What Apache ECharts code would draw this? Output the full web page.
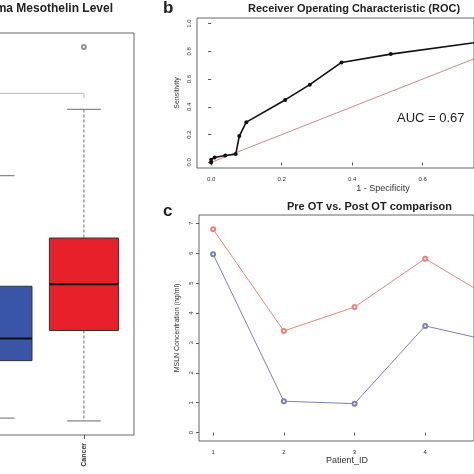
<!DOCTYPE html>
<html>
<head>
<meta charset="utf-8">
<script src="https://cdn.jsdelivr.net/npm/echarts@6/dist/echarts.min.js"></script>
<style>html,body{margin:0;padding:0;background:#fff}#c{width:474px;height:474px}</style>
</head>
<body>
<div id="c"></div>
<script>
// panel a: box stats [pos, low, q1, median, q3, high]
const boxGroups = ['Control', 'Cancer']
const boxStats = [
  [1, 0.42, 1.85, 2.4, 3.7, 6.45],
  [2, 0.35, 2.6, 3.75, 4.9, 8.1]
]
const boxColors = ['#3b55a6', '#e8202a']
const boxOutliers = [[2, 9.65]]

// panel b: ROC curve
const rocFpr = [0, 0, 0.01, 0.04, 0.07, 0.08, 0.10, 0.21, 0.28, 0.37, 0.51, 0.80, 1.0]
const rocTpr = [0, 0.02, 0.035, 0.05, 0.06, 0.19, 0.29, 0.45, 0.56, 0.72, 0.78, 0.88, 1.0]
const rocTicks = [0, 0.2, 0.4, 0.6, 0.8, 1.0]

// panel c: pre / post values
const patients = [1, 2, 3, 4, 5, 6]
const preOT = [6.8, 3.4, 4.2, 5.82, 4.4, 5.0]
const postOT = [5.97, 1.05, 0.97, 3.57, 3.03, 2.5]
const concTicks = [0, 1, 2, 3, 4, 5, 6, 7]

const chart = echarts.init(document.getElementById('c'))
const tickFont = {fontSize: 6, color: '#333', fontFamily: 'Liberation Sans'}
const frame = {show: true, borderColor: '#666', borderWidth: 1, backgroundColor: 'transparent'}
const tick = vals => ({show: true, customValues: vals, length: 3, lineStyle: {color: '#555'}})

chart.setOption({
  animation: false,
  grid: [
    {left: 0, width: 134, top: 33, height: 402, show: false},
    Object.assign({left: 197, width: 277, top: 18, height: 150}, frame),
    Object.assign({left: 199, width: 275, top: 215, height: 226}, frame)
  ],
  xAxis: [
    {gridIndex: 0, type: 'value', min: 1.029, max: 2.58, splitLine: {show: false},
      axisLine: {show: false},
      axisTick: {show: true, customValues: [2], length: 4, lineStyle: {color: '#555'}},
      axisLabel: {customValues: [2], rotate: 90, fontSize: 7, fontWeight: 'bold', color: '#333',
        formatter: v => boxGroups[Math.round(v) - 1]}},
    {gridIndex: 1, type: 'value', min: -0.04, max: 0.746, splitLine: {show: false},
      axisLine: {show: false}, axisTick: tick(rocTicks),
      axisLabel: Object.assign({customValues: rocTicks, formatter: v => v.toFixed(1)}, tickFont)},
    {gridIndex: 2, type: 'value', min: 0.8, max: 4.69, splitLine: {show: false},
      axisLine: {show: false}, axisTick: tick(patients),
      axisLabel: Object.assign({customValues: patients}, tickFont)}
  ],
  yAxis: [
    {gridIndex: 0, type: 'value', min: 0, max: 10, show: false},
    {gridIndex: 1, type: 'value', min: -0.04, max: 1.04, splitLine: {show: false},
      axisLine: {show: false}, axisTick: tick(rocTicks),
      axisLabel: Object.assign({customValues: rocTicks, rotate: 90, margin: 5, formatter: v => v.toFixed(1)}, tickFont)},
    {gridIndex: 2, type: 'value', min: -0.28, max: 7.28, splitLine: {show: false},
      axisLine: {show: false}, axisTick: tick(concTicks),
      axisLabel: Object.assign({customValues: concTicks, rotate: 90, margin: 5}, tickFont)}
  ],
  graphic: [
    {type: 'polyline', shape: {points: [[0, 33], [134, 33], [134, 435], [0, 435]]}, style: {stroke: '#666', fill: null, lineWidth: 1}},
    {type: 'text', position: [113, 3], style: {text: 'Plasma Mesothelin Level', fontSize: 12, fontWeight: 'bold', fill: '#222', align: 'right'}},
    {type: 'text', position: [163, 0], style: {text: 'b', fontSize: 17, fontWeight: 'bold', fill: '#222'}},
    {type: 'text', position: [248, 3], style: {text: 'Receiver Operating Characteristic (ROC)', fontSize: 11, fontWeight: 'bold', fill: '#222'}},
    {type: 'text', position: [397, 112], style: {text: 'AUC = 0.67', fontSize: 13, fill: '#222'}},
    {type: 'text', position: [383, 184], style: {text: '1 - Specificity', fontSize: 9, fill: '#333', align: 'center'}},
    {type: 'text', position: [174, 93], rotation: Math.PI / 2, style: {text: 'Sensitivity', fontSize: 7, fill: '#333', align: 'center'}},
    {type: 'text', position: [163, 203], style: {text: 'c', fontSize: 17, fontWeight: 'bold', fill: '#222'}},
    {type: 'text', position: [287, 201], style: {text: 'Pre OT vs. Post OT comparison', fontSize: 11, fontWeight: 'bold', fill: '#222'}},
    {type: 'text', position: [347, 456], style: {text: 'Patient_ID', fontSize: 9, fill: '#333', align: 'center'}},
    {type: 'text', position: [174, 328], rotation: Math.PI / 2, style: {text: 'MSLN Concentration (ng/ml)', fontSize: 7, fill: '#333', align: 'center'}}
  ],
  series: [
    {type: 'custom', xAxisIndex: 0, yAxisIndex: 0, data: boxStats, clip: false, renderItem: (params, api) => {
      const x = api.value(0)
      const [cx, yLow] = api.coord([x, api.value(1)])
      const yQ1 = api.coord([x, api.value(2)])[1]
      const yMed = api.coord([x, api.value(3)])[1]
      const yQ3 = api.coord([x, api.value(4)])[1]
      const yHigh = api.coord([x, api.value(5)])[1]
      const hw = 34.5, cw = 17
      const grey = {stroke: '#888', lineWidth: 1.2}
      return {type: 'group', children: [
        {type: 'line', shape: {x1: cx, y1: yHigh, x2: cx, y2: yQ3}, style: Object.assign({lineDash: [3, 2]}, grey)},
        {type: 'line', shape: {x1: cx, y1: yQ1, x2: cx, y2: yLow}, style: Object.assign({lineDash: [3, 2]}, grey)},
        {type: 'line', shape: {x1: cx - cw, y1: yHigh, x2: cx + cw, y2: yHigh}, style: grey},
        {type: 'line', shape: {x1: cx - cw, y1: yLow, x2: cx + cw, y2: yLow}, style: grey},
        {type: 'rect', shape: {x: cx - hw, y: yQ3, width: 2 * hw, height: yQ1 - yQ3},
          style: {fill: boxColors[params.dataIndex], stroke: '#333', lineWidth: 1}},
        {type: 'line', shape: {x1: cx - hw, y1: yMed, x2: cx + hw, y2: yMed}, style: {stroke: '#111', lineWidth: 2}}
      ]}
    }},
    {type: 'scatter', xAxisIndex: 0, yAxisIndex: 0, data: boxOutliers, symbol: 'emptyCircle', symbolSize: 4,
      itemStyle: {color: '#777'}},
    {type: 'line', xAxisIndex: 0, yAxisIndex: 0, clip: false, data: [[1, 8.38], [1, 8.5], [2, 8.5], [2, 8.38]], symbol: 'none',
      lineStyle: {color: '#bbb', width: 1},
      markPoint: {symbol: 'none', data: [{coord: [1.45, 8.66], label: {show: true, formatter: '*', fontSize: 13, color: '#333'}}]}},
    {type: 'line', xAxisIndex: 1, yAxisIndex: 1, data: [[0, 0], [1, 1]], symbol: 'none',
      lineStyle: {color: '#c98a86', width: 1}},
    {type: 'line', xAxisIndex: 1, yAxisIndex: 1, data: rocFpr.map((f, i) => [f, rocTpr[i]]),
      symbol: 'circle', symbolSize: 4, itemStyle: {color: '#111'}, lineStyle: {color: '#111', width: 1.6}},
    {type: 'line', xAxisIndex: 2, yAxisIndex: 2, data: patients.map((p, i) => [p, preOT[i]]),
      symbol: 'emptyCircle', symbolSize: 4, itemStyle: {color: '#e8847c'}, lineStyle: {color: '#e8847c', width: 1}},
    {type: 'line', xAxisIndex: 2, yAxisIndex: 2, data: patients.map((p, i) => [p, postOT[i]]),
      symbol: 'emptyCircle', symbolSize: 4, itemStyle: {color: '#7f80b8'}, lineStyle: {color: '#7f80b8', width: 1}}
  ]
})
</script>
</body>
</html>
